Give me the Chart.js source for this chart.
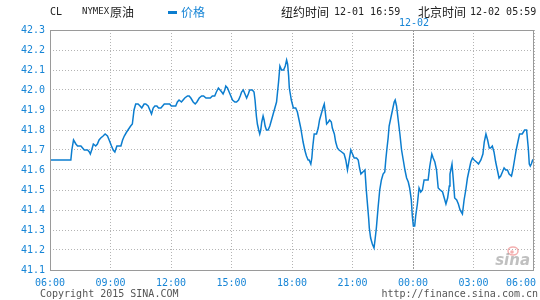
<!DOCTYPE html>
<html>
<head>
<meta charset="utf-8">
<script src="https://cdn.jsdelivr.net/npm/chart.js@4/dist/chart.umd.min.js"></script>
<style>
  body { margin: 0; background: #fff; }
  canvas { display: block; }
</style>
</head>
<body>
<canvas id="grafica" width="540" height="300"></canvas>
<script>
// minutos desde las 06:00 (hora de Pekín) y precio
const minutos = [
  0, 62, 65, 70, 77, 82, 92, 97, 102, 112, 117, 120, 124, 129, 136, 141, 146, 151, 158, 164,
  171, 176, 183, 188, 193, 199, 206, 211, 216, 221, 228, 236, 240, 245, 250, 255, 262, 268, 273, 280,
  285, 292, 297, 302, 307, 312, 318, 323, 330, 335, 340, 350, 356, 361, 369, 374, 379, 384, 391, 396,
  401, 409, 414, 419, 426, 432, 437, 444, 451, 457, 464, 477, 483, 490, 495, 501, 506, 511, 515, 520,
  523, 528, 533, 538, 543, 550, 555, 561, 566, 570, 575, 580, 585, 590, 594, 602, 607, 610, 614, 617,
  621, 624, 627, 630, 634, 637, 640, 644, 649, 654, 659, 664, 669, 674, 677, 680, 684, 689, 695, 700,
  704, 707, 710, 712, 715, 718, 724, 731, 736, 741, 746, 749, 753, 758, 763, 768, 771, 776, 779, 782,
  786, 793, 798, 802, 807, 812, 816, 819, 823, 828, 832, 837, 840, 846, 850, 855, 860, 868, 875, 880,
  885, 890, 895, 900, 905, 912, 917, 921, 925, 931, 937, 941, 945, 948, 950, 954, 959, 964, 967, 971,
  976, 981, 986, 991, 996, 999, 1002, 1006, 1009, 1014, 1019, 1024, 1027, 1031, 1036, 1041, 1046, 1051, 1056, 1061,
  1066, 1070, 1075, 1078, 1081, 1085, 1088, 1093, 1098, 1103, 1108, 1113, 1118, 1125, 1130, 1136, 1140, 1145, 1150, 1155,
  1161, 1168, 1173, 1178, 1183, 1188, 1190, 1196, 1200, 1204, 1210, 1215, 1220, 1227, 1232, 1237, 1242, 1247, 1252, 1257,
  1262, 1269, 1275, 1282, 1288, 1292, 1297, 1302, 1307, 1311, 1316, 1321, 1326, 1331, 1336, 1341, 1346, 1351, 1356, 1361,
  1366, 1373, 1377, 1382, 1387, 1392, 1397, 1405, 1412, 1418, 1423, 1426, 1429, 1432, 1436, 1439
];
const precios = [
  41.65, 41.65, 41.70, 41.75, 41.73, 41.72, 41.72, 41.71, 41.70, 41.70, 41.69, 41.68, 41.70, 41.73, 41.72, 41.73, 41.75, 41.76, 41.77, 41.78,
  41.77, 41.75, 41.72, 41.70, 41.69, 41.72, 41.72, 41.72, 41.75, 41.77, 41.79, 41.81, 41.82, 41.83, 41.90, 41.93, 41.93, 41.92, 41.91, 41.93,
  41.93, 41.92, 41.90, 41.88, 41.91, 41.92, 41.92, 41.91, 41.91, 41.92, 41.93, 41.93, 41.93, 41.92, 41.92, 41.92, 41.94, 41.95, 41.94, 41.95,
  41.96, 41.97, 41.97, 41.96, 41.94, 41.93, 41.94, 41.96, 41.97, 41.97, 41.96, 41.96, 41.97, 41.97, 41.99, 42.01, 42.00, 41.99, 41.98, 42.00,
  42.02, 42.01, 41.99, 41.97, 41.95, 41.94, 41.94, 41.95, 41.97, 41.99, 42.00, 41.98, 41.96, 41.98, 42.00, 42.00, 41.99, 41.95, 41.87, 41.83,
  41.80, 41.78, 41.80, 41.84, 41.87, 41.85, 41.82, 41.80, 41.80, 41.82, 41.85, 41.88, 41.91, 41.94, 41.99, 42.04, 42.12, 42.10, 42.10, 42.12,
  42.15, 42.13, 42.07, 42.01, 41.98, 41.95, 41.91, 41.91, 41.89, 41.85, 41.81, 41.78, 41.74, 41.70, 41.67, 41.65, 41.65, 41.63, 41.66, 41.72,
  41.78, 41.78, 41.81, 41.85, 41.88, 41.91, 41.93, 41.89, 41.83, 41.84, 41.85, 41.84, 41.81, 41.78, 41.74, 41.71, 41.70, 41.69, 41.68, 41.65,
  41.60, 41.65, 41.70, 41.68, 41.66, 41.66, 41.65, 41.61, 41.58, 41.59, 41.60, 41.50, 41.42, 41.36, 41.31, 41.26, 41.23, 41.21, 41.25, 41.31,
  41.41, 41.50, 41.55, 41.58, 41.59, 41.65, 41.70, 41.76, 41.82, 41.86, 41.90, 41.94, 41.95, 41.92, 41.85, 41.78, 41.70, 41.65, 41.60, 41.56,
  41.54, 41.51, 41.45, 41.37, 41.32, 41.32, 41.37, 41.43, 41.51, 41.49, 41.50, 41.55, 41.55, 41.55, 41.62, 41.68, 41.66, 41.64, 41.60, 41.51,
  41.50, 41.49, 41.46, 41.43, 41.46, 41.52, 41.58, 41.63, 41.55, 41.46, 41.45, 41.43, 41.40, 41.38, 41.45, 41.50, 41.56, 41.60, 41.64, 41.66,
  41.65, 41.64, 41.63, 41.65, 41.68, 41.74, 41.78, 41.75, 41.71, 41.71, 41.72, 41.69, 41.64, 41.60, 41.56, 41.57, 41.59, 41.61, 41.60, 41.60,
  41.58, 41.57, 41.60, 41.65, 41.70, 41.74, 41.78, 41.78, 41.80, 41.80, 41.71, 41.63, 41.62, 41.63, 41.65, 41.65
];
const etiquetasX = ['06:00', '09:00', '12:00', '15:00', '18:00', '21:00', '00:00', '03:00', '06:00'];
const minutoCambioDia = 1080;

// Colores
const AZUL = '#0b7dcf';
const AZUL_TEXTO = '#1785d6';
const GRIS_REJILLA = '#b4b4b4';
const GRIS_MARCO = '#9a9a9a';
const MONO = "'DejaVu Sans Mono', 'Liberation Mono', monospace";
const CJK = "'Noto Sans CJK SC', sans-serif";

const textos = {
    id: 'textos',
    afterDraw(chart) {
        const c = chart.ctx;
        const area = chart.chartArea;
        const ejeX = chart.scales.x;
        c.save();

        // marco
        c.strokeStyle = GRIS_MARCO;
        c.lineWidth = 1;
        c.strokeRect(area.left + 0.5, area.top + 0.5, area.right - area.left - 1, area.bottom - area.top);

        // etiquetas eje X
        c.font = '10px ' + MONO;
        c.fillStyle = AZUL_TEXTO;
        c.textBaseline = 'middle';
        etiquetasX.forEach((txt, i) => {
            const x = ejeX.getPixelForValue(i * 180);
            c.textAlign = i === etiquetasX.length - 1 ? 'right' : 'center';
            c.fillText(txt, i === etiquetasX.length - 1 ? x + 2 : x, 283);
        });
        // marca de día
        c.textAlign = 'center';
        c.fillText('12-02', ejeX.getPixelForValue(minutoCambioDia) + 1, 23);

        // cabecera
        c.fillStyle = '#222';
        c.textAlign = 'left';
        c.font = '10px ' + MONO;
        c.fillText('CL', 50, 12);
        c.font = '9px ' + MONO;
        c.fillText('NYMEX', 82, 12);
        c.font = '12px ' + CJK;
        c.fillText('原油', 110, 12);

        c.fillStyle = AZUL;
        c.fillRect(168, 11, 9, 3);
        c.fillStyle = AZUL_TEXTO;
        c.fillText('价格', 181, 12);

        c.fillStyle = '#222';
        c.fillText('纽约时间', 281, 12);
        c.font = '10px ' + MONO;
        c.fillText('12-01 16:59', 334, 12);
        c.font = '12px ' + CJK;
        c.fillText('北京时间', 418, 12);
        c.font = '10px ' + MONO;
        c.fillText('12-02 05:59', 470, 12);

        // pie
        c.fillStyle = '#555';
        c.fillText('Copyright 2015 SINA.COM', 40, 294);
        c.textAlign = 'right';
        c.fillText('http://finance.sina.com.cn', 538, 294);

        // marca de agua
        c.strokeStyle = 'rgba(235, 110, 110, 0.55)';
        c.lineWidth = 1.5;
        c.beginPath();
        c.ellipse(513, 251, 5, 4, 0, 0, Math.PI * 2);
        c.stroke();
        c.fillStyle = 'rgba(235, 110, 110, 0.55)';
        c.beginPath();
        c.arc(512, 252, 1.8, 0, Math.PI * 2);
        c.fill();
        c.fillStyle = 'rgba(150, 150, 150, 0.6)';
        c.font = 'italic bold 15px ' + "'DejaVu Sans', sans-serif";
        c.textAlign = 'right';
        c.textBaseline = 'alphabetic';
        c.fillText('sina', 530, 265);

        c.restore();
    }
};

new Chart(document.getElementById('grafica'), {
    type: 'line',
    data: {
        datasets: [{
            label: '价格',
            data: minutos.map((m, i) => ({ x: m, y: precios[i] })),
            borderColor: AZUL,
            borderWidth: 1.5,
            pointRadius: 0,
            tension: 0,
            fill: false
        }]
    },
    options: {
        responsive: false,
        animation: false,
        events: [],
        layout: { padding: { left: 0, top: 30, right: 6, bottom: 30 } },
        plugins: {
            legend: { display: false },
            tooltip: { enabled: false }
        },
        scales: {
            x: {
                type: 'linear',
                min: 0,
                max: 1440,
                afterFit: (s) => { s.height = 0; },
                ticks: { display: false, stepSize: 180 },
                grid: {
                    drawTicks: false,
                    color: (ctx) => ctx.tick && ctx.tick.value === minutoCambioDia ? '#999' : GRIS_REJILLA
                },
                border: {
                    display: false,
                    dash: (ctx) => ctx.tick && ctx.tick.value === minutoCambioDia ? [2, 1] : [1, 2]
                }
            },
            y: {
                min: 41.1,
                max: 42.3,
                afterFit: (s) => { s.width = 50; },
                ticks: {
                    stepSize: 0.1,
                    padding: 5,
                    color: AZUL_TEXTO,
                    font: { family: MONO, size: 10 },
                    callback: (v) => v.toFixed(1)
                },
                grid: { drawTicks: false, color: GRIS_REJILLA },
                border: { display: false, dash: [1, 2] }
            }
        }
    },
    plugins: [textos]
});
</script>
</body>
</html>
